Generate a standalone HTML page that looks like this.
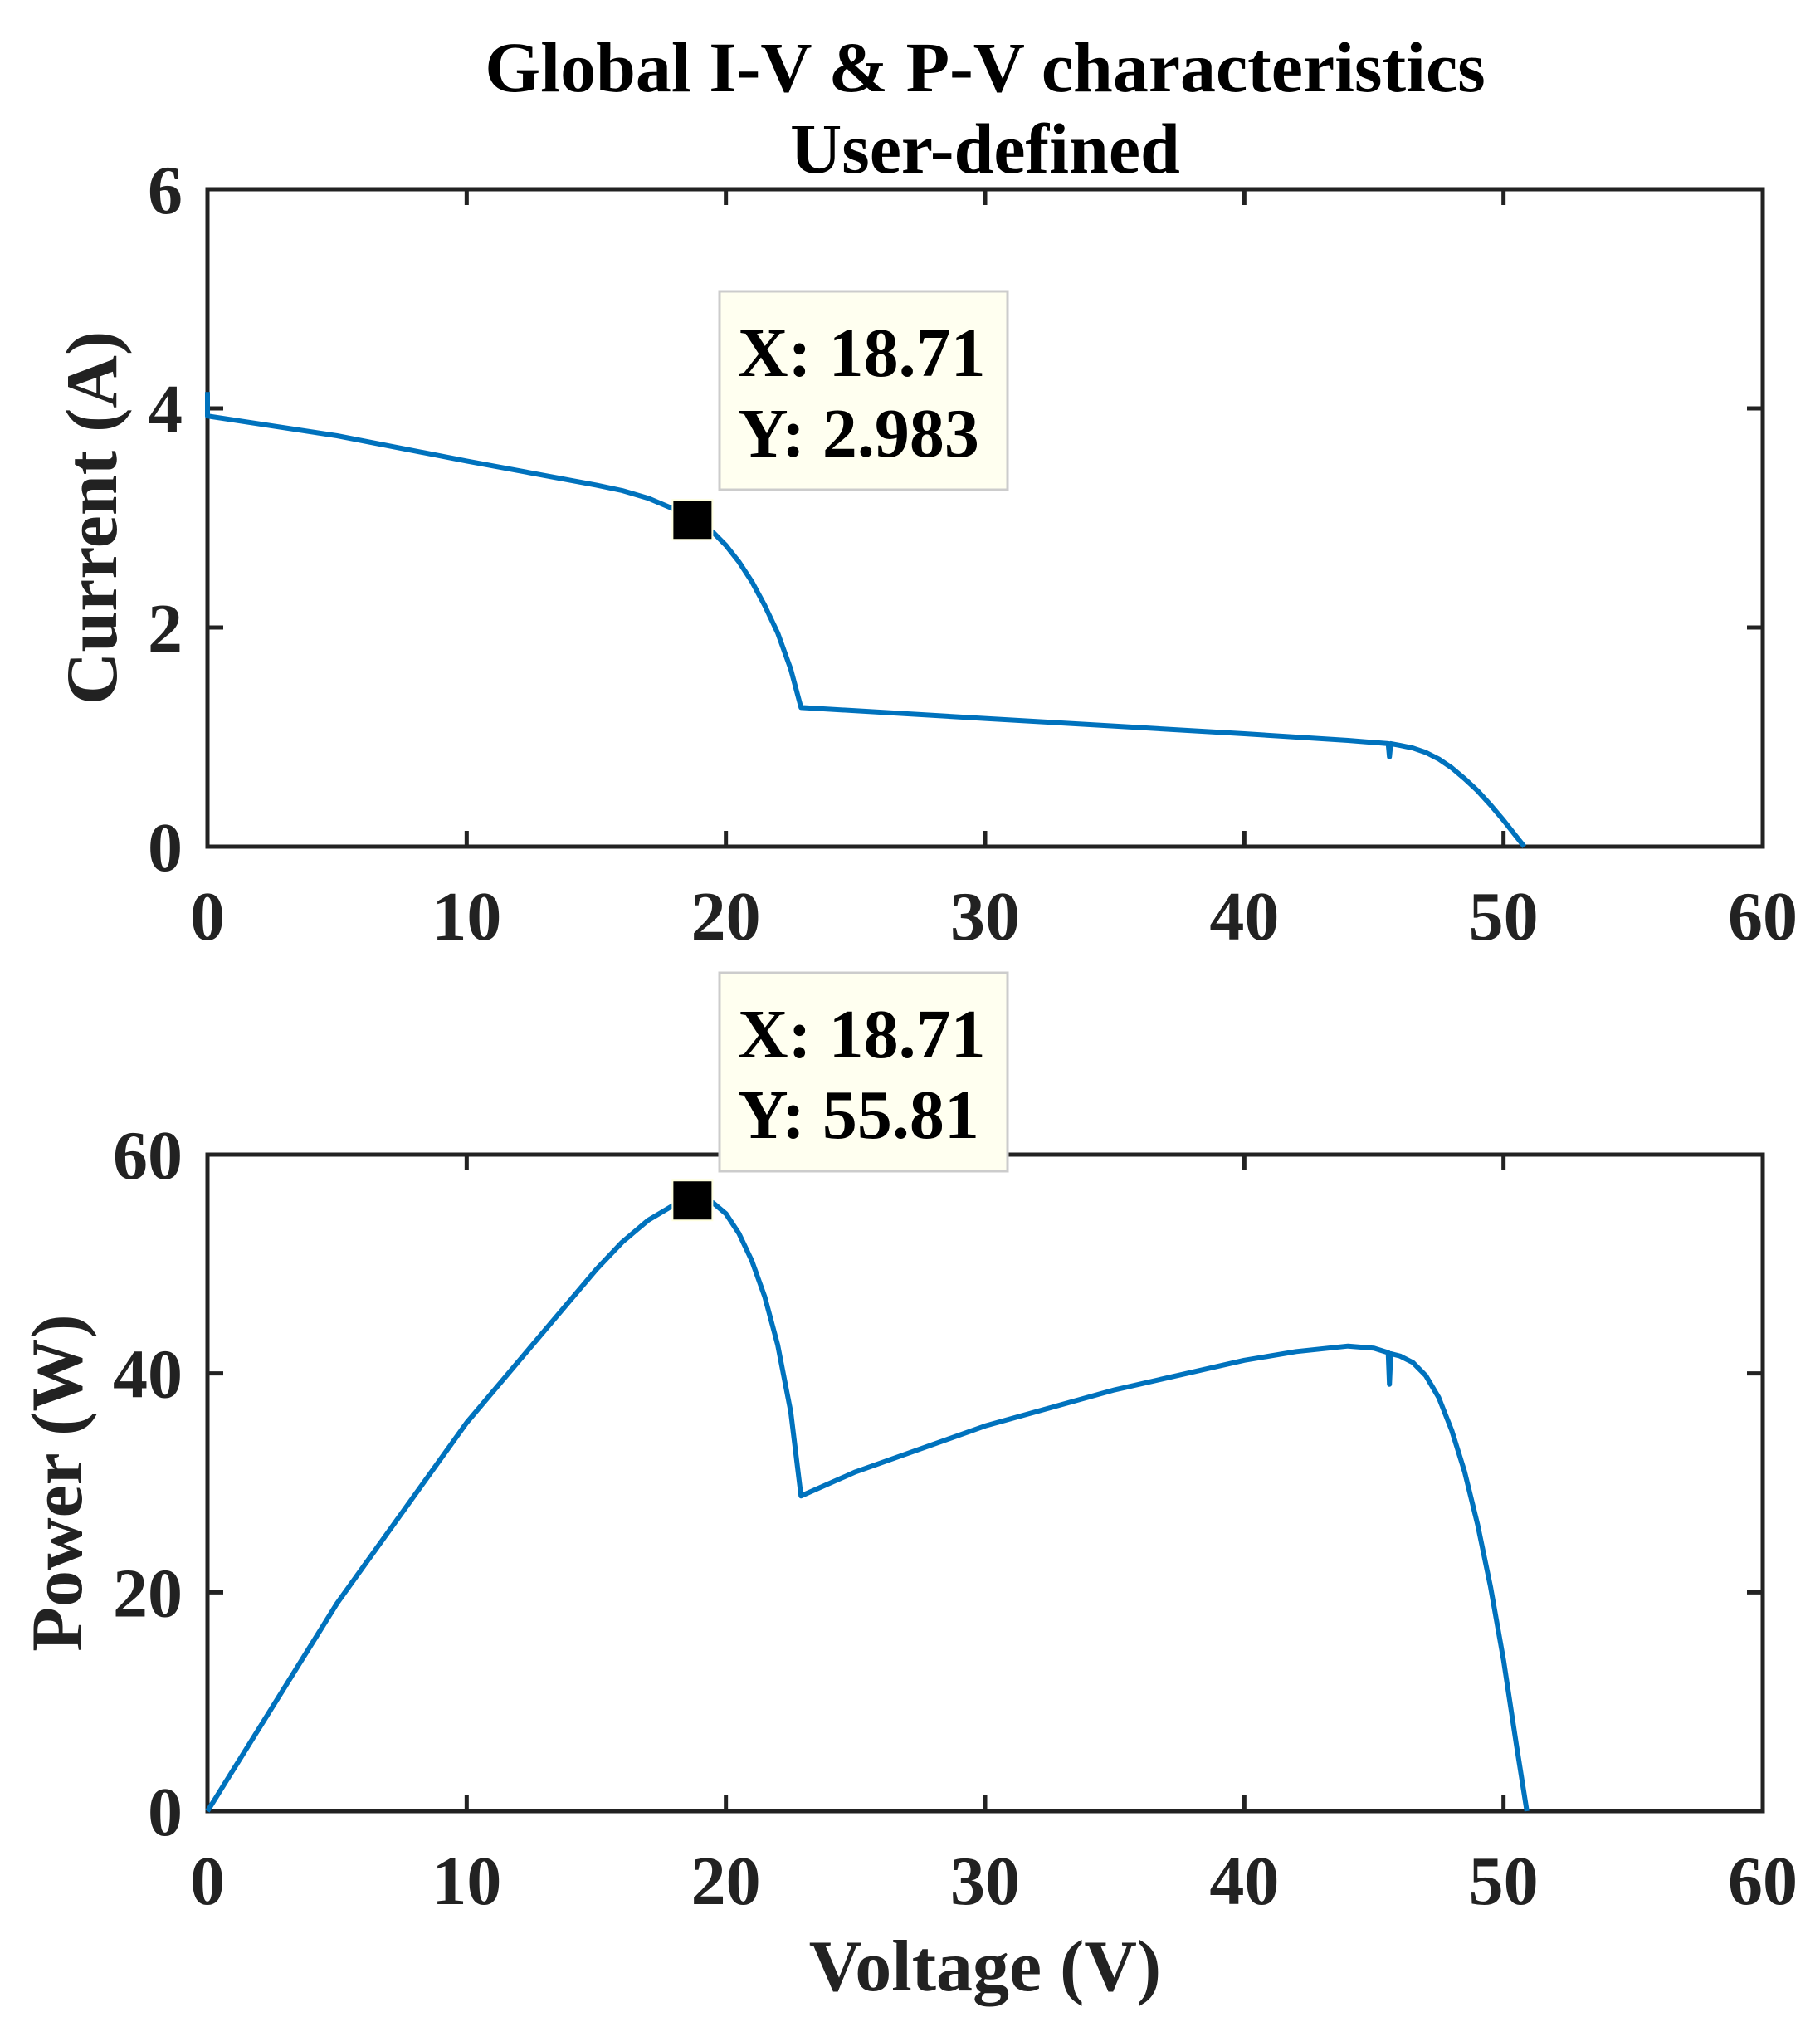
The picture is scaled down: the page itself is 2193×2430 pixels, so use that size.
<!DOCTYPE html>
<html><head><meta charset="utf-8"><style>
html,body{margin:0;padding:0;background:#fff;}
svg{display:block;font-family:"Liberation Serif",serif;font-weight:bold;}
</style></head><body>
<svg id="chart" width="2193" height="2430" viewBox="0 0 2193 2430" xmlns="http://www.w3.org/2000/svg">
<rect width="2193" height="2430" fill="#fff"/>
<text x="1187" y="110" font-size="86" text-anchor="middle" fill="#000">Global I-V &amp; P-V characteristics</text>
<text x="1187" y="208" font-size="86" text-anchor="middle" fill="#000">User-defined</text>
<g id="top"></g>
<g id="bot"></g>
</svg>
<script>
const xTicks=[0,10,20,30,40,50,60];
const iTicks=[0,2,4,6];
const pTicks=[0,20,40,60];
const ivV=[0,0,5,10,15,16,17,18,18.71,19.5,20,20.5,21,21.5,22,22.5,22.9,25,30,35,40,44,45.55,45.6,45.65,46,46.5,47,47.5,48,48.5,49,49.5,50,50.4,50.8];
const ivI=[4.15,3.93,3.75,3.52,3.3,3.25,3.18,3.08,2.983,2.87,2.75,2.6,2.42,2.2,1.95,1.62,1.27,1.24,1.17,1.1,1.03,0.97,0.94,0.82,0.94,0.925,0.9,0.86,0.8,0.72,0.62,0.51,0.38,0.24,0.12,0.0];
const pvV=[0,5,10,15,16,17,18,18.71,19.5,20,20.5,21,21.5,22,22.5,22.9,25,30,35,40,42,44,45,45.55,45.6,45.65,46,46.5,47,47.5,48,48.5,49,49.5,50,50.5,50.9];
const pvP=[0,19,35.5,49.5,52,54,55.4,55.81,55.6,54.6,52.8,50.3,47,42.6,36.5,28.8,31,35.2,38.5,41.2,42,42.5,42.3,41.9,39,41.8,41.6,41,39.8,37.8,34.8,31,26.2,20.5,13.8,6,0];
const tipX=[18.71];
const tipI=[2.983];
const tipP=[55.81];
const NS='http://www.w3.org/2000/svg';
function mk(p,t,a,txt){const e=document.createElementNS(NS,t);for(const k in a)e.setAttribute(k,a[k]);if(txt!==undefined)e.textContent=txt;p.appendChild(e);return e;}
const X0=250,X1=2124;
function sx(v){return X0+(v-0)/(60-0)*(X1-X0);}
function panel(g,top,bottom,ymax,yt,vs,ys,tip,tipLabel,ylabel,ylx,box,name){
  const sy=v=>bottom-v/ymax*(bottom-top);
  const ax=mk(g,'rect',{x:X0,y:top,width:X1-X0,height:bottom-top,fill:'none',stroke:'#222','stroke-width':5});
  
  
  xTicks.forEach(t=>{
    const x=sx(t);
    const l1=mk(g,'path',{d:`M${x},${bottom}v-19M${x},${top}v19`,stroke:'#222','stroke-width':5});
    
    
    const tl=mk(g,'text',{x:x,y:bottom+112,'font-size':84,'text-anchor':'middle',fill:'#222'},String(t));
    
    
  });
  yt.forEach(t=>{
    const y=sy(t);
    const l1=mk(g,'path',{d:`M${X0},${y}h19M${X1},${y}h-19`,stroke:'#222','stroke-width':5});
    
    
    const tl=mk(g,'text',{x:220,y:y+29,'font-size':84,'text-anchor':'end',fill:'#222'},String(t));
    
    
  });
  const d=vs.map((v,i)=>(i?'L':'M')+sx(v).toFixed(1)+','+sy(ys[i]).toFixed(1)).join('');
  const ln=mk(g,'path',{d:d,fill:'none',stroke:'#0072BD','stroke-width':6,'stroke-linejoin':'round'});
  
  
  const mx=sx(tipX[0]),my=sy(tip[0]);
  const mr=mk(g,'rect',{x:mx-24,y:my-24,width:48,height:48,fill:'#000',stroke:'#ffffe0','stroke-width':2});
  
  
  const bx=mk(g,'rect',{x:867,y:box,width:347,height:239,fill:'#fffff0',stroke:'#ccc','stroke-width':3});
  
  
  const t1=mk(g,'text',{x:889,y:box+102,'font-size':84,fill:'#000'},'X: '+tipX[0]);
  
  
  const t2=mk(g,'text',{x:889,y:box+199,'font-size':84,fill:'#000'},'Y: '+tipLabel);
  
  
  const yl=mk(g,'text',{x:0,y:0,'font-size':88,'text-anchor':'middle',fill:'#222',transform:`translate(${ylx},${(top+bottom)/2}) rotate(-90)`},ylabel);
  
  
}
panel(document.getElementById('top'),228,1020,6,iTicks,ivV,ivI,tipI,'2.983','Current (A)',140,351,'iv');
panel(document.getElementById('bot'),1391,2182,60,pTicks,pvV,pvP,tipP,'55.81','Power (W)',98,1172,'pv');
const xl=mk(document.getElementById('bot'),'text',{x:1187,y:2398,'font-size':88,'text-anchor':'middle',fill:'#222'},'Voltage (V)');


</script>
</body></html>
